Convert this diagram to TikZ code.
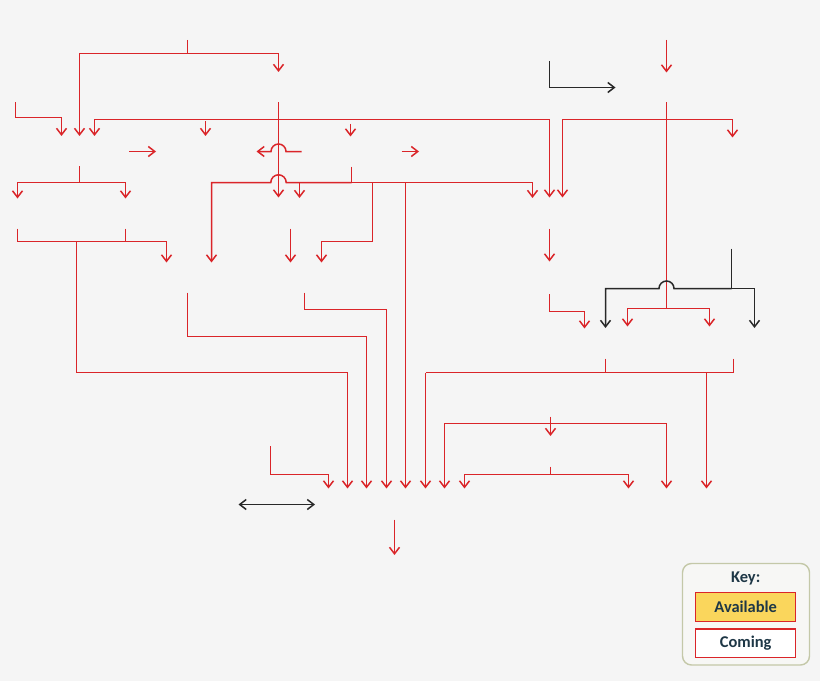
\documentclass[tikz,border=0pt]{standalone}
\usepackage{fontspec}
\setmainfont{Carlito}
\usetikzlibrary{arrows.meta}
\definecolor{bg}{RGB}{245,245,245}
\definecolor{rl}{RGB}{218,37,41}
\definecolor{kl}{RGB}{40,40,40}
\definecolor{keyborder}{RGB}{196,200,168}
\definecolor{keyfill}{RGB}{247,247,245}
\definecolor{availfill}{RGB}{250,214,92}
\definecolor{keytext}{RGB}{30,55,70}
\tikzset{
  tipb/.tip={Straight Barb[length=6.5bp,width=10bp,line width=1.5bp]},
  r/.style={draw=rl, line width=1.5bp},
  ra/.style={r, -tipb},
  k/.style={draw=kl, line width=1.5bp},
  ka/.style={k, -tipb},
  kda/.style={k, tipb-tipb},
  keybox/.style={draw=rl, line width=1.2bp, minimum width=100bp, font=\bfseries\fontsize{16.5}{18}\selectfont, text=keytext, inner sep=0pt}
}
\begin{document}
\begin{tikzpicture}[x=1bp, y=-1bp]
\fill[bg] (0,0) rectangle (820,681);
\useasboundingbox (0,0) rectangle (820,681);
% top group
\draw[r] (187.5,40)--(187.5,53.5);
\draw[ra] (187.5,53.5)-|(278.5,72);
\draw[ra] (187.5,53.5)-|(79.5,136);
\draw[ra] (15.5,102.5)--(15.5,117.5)-|(61.5,136);
% long horizontal at 119
\draw[ra] (278.5,119.5)-|(94.5,136);
\draw[ra] (278.5,119.5)-|(549.5,197.5);
\draw[ra] (278.5,102.5)--(278.5,197.5);
\draw[ra] (205.5,121.5)--(205.5,136);
\draw[ra] (350.5,124)--(350.5,136.5);
% right arrows
\draw[ra] (129,151.5)--(156,151.5);
\draw[ra] (401.5,151.5)--(419,151.5);
\draw[ra] (301.5,151.5)--(286,151.5) arc(0:-180:7.5)--(256.5,151.5);
% horizontal at 183
\draw[r] (351.5,166.5)--(351.5,182.5);
\draw[ra] (351.5,182.5)--(286.2,182.5) arc(0:-180:7.7)--(211.5,182.5)--(211.5,262.5);
\draw[ra] (351.5,182.5)-|(532.5,198);
\draw[ra] (299.5,182.5)--(299.5,198);
\draw[ra] (372.5,182.5)--(372.5,241.5)-|(321.5,262.5);
\draw[ra] (405.5,182.5)--(405.5,488.5);
% left group
\draw[r] (79.5,166)--(79.5,182.5);
\draw[ra] (79.5,182.5)-|(17.5,198.5);
\draw[ra] (79.5,182.5)-|(125.5,198.5);
\draw[ra] (17.5,228.5)|-(166.5,241.5)--(166.5,262.5);
\draw[r] (125.5,228.5)--(125.5,241.5);
\draw[ra] (76.5,241.5)--(76.5,372.5)-|(347.5,488.5);
\draw[ra] (290.5,228.5)--(290.5,262.5);
\draw[ra] (549.5,228.5)--(549.5,261.5);
\draw[ra] (187.5,292.5)|-(366.5,336.5)--(366.5,488.5);
\draw[ra] (304.5,292.5)|-(386.5,309.5)--(386.5,488.5);
\draw[ra] (270.5,446)|-(328.5,474.5)--(328.5,488.5);
\draw[ra] (394.5,519.5)--(394.5,555);
% right group
\draw[ra] (666.5,40)--(666.5,72.5);
\draw[r] (666.5,102.5)--(666.5,308.5);
\draw[ra] (666.5,308.5)-|(627.5,326.5);
\draw[ra] (666.5,308.5)-|(709.5,326.5);
\draw[ra] (666.5,119.5)-|(562.5,197.5);
\draw[ra] (666.5,119.5)-|(732.5,137.5);
\draw[ra] (549.5,294)|-(584.5,311.5)--(584.5,328.5);
% bottom right
\draw[r] (605.5,358.5)--(605.5,372.5);
\draw[r] (733.5,358.5)--(733.5,372.5)--(425.5,372.5);
\draw[ra] (425.5,372.5)--(425.5,488.5);
\draw[ra] (706.5,372.5)--(706.5,488.5);
\draw[ra] (550.5,416.5)--(550.5,436);
\draw[ra] (550.5,423.5)-|(444.5,488.5);
\draw[ra] (550.5,423.5)-|(666.5,488.5);
\draw[r] (550.5,466.5)--(550.5,474.5);
\draw[ra] (550.5,474.5)-|(464.5,488.5);
\draw[ra] (550.5,474.5)-|(628.5,488.5);
% black
\draw[ka] (549.5,61)|-(615.5,87.5);
\draw[k] (731.5,248.5)--(731.5,288.5);
\draw[ka] (731.5,288.5)-|(754.5,328);
\draw[ka] (731.5,288.5)--(674,288.5) arc(0:-180:7.5)--(605.5,288.5)--(605.5,328);
\draw[kda] (238.5,504.5)--(315,504.5);
% key
\draw[draw=keyborder, fill=keyfill, line width=1.4bp, rounded corners=9bp] (682.5,563.5) rectangle (809.5,665);
\node[font=\bfseries\fontsize{16.5}{18}\selectfont, text=keytext] (keytitle) at (745.7,578.5) {Key:};
\node[keybox, fill=availfill, minimum height=29.4bp] (avail) at (745.7,607) {Available};
\node[keybox, fill=white, minimum height=28.7bp] (coming) at (745.7,643.3) {Coming};
\end{tikzpicture}
\end{document}
